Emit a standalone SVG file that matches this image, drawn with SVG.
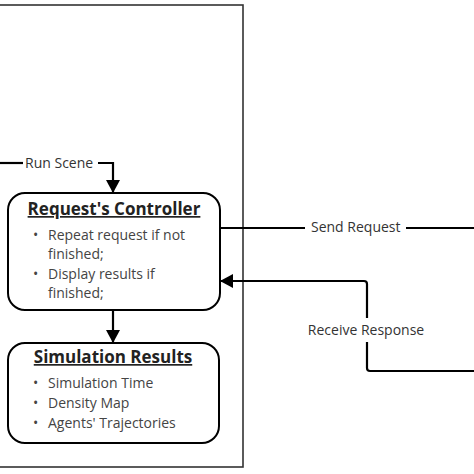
<svg xmlns="http://www.w3.org/2000/svg" width="474" height="474" viewBox="0 0 474 474">
<defs>
<marker id="ah" markerWidth="13" markerHeight="14" refX="12" refY="7" orient="auto" markerUnits="userSpaceOnUse">
<path d="M0,0 L13,7 L0,14 z" fill="#000"/>
</marker>
<style>
.box{fill:#fff;stroke:#000;stroke-width:2}
.ln{fill:none;stroke:#000;stroke-width:2.2}
.title{font-family:"Open Sans","DejaVu Sans",sans-serif;font-weight:bold;font-size:17px;fill:#222;text-decoration:underline}
.item{font-family:"Open Sans","DejaVu Sans",sans-serif;font-size:14px;fill:#444}
.lbl{font-family:"Open Sans","DejaVu Sans",sans-serif;font-size:14px;fill:#333}
</style>
</defs>
<rect x="-10" y="5" width="253" height="462" fill="#fff" stroke="#333" stroke-width="1.6"/>
<g id="connectors">
<path class="ln" d="M0,163 H23"/>
<text class="lbl" x="25" y="168">Run Scene</text>
<path class="ln" d="M98,163 H113 V192" marker-end="url(#ah)"/>
<path class="ln" d="M220,228 H305"/>
<text class="lbl" x="311" y="232">Send Request</text>
<path class="ln" d="M406,228 H474"/>
<path class="ln" d="M474,371 H370 Q367,371 367,368 V342"/>
<path class="ln" d="M367,318 V284 Q367,281 364,281 H221" marker-end="url(#ah)"/>
<text class="lbl" x="366" y="335" text-anchor="middle">Receive Response</text>
<path class="ln" d="M113,310 V342" marker-end="url(#ah)"/>
</g>
<g id="controller">
<rect class="box" x="8" y="193" width="212" height="117" rx="17"/>
<text class="title" x="114" y="215" text-anchor="middle">Request's Controller</text>
<text class="item" x="33" y="240">•</text>
<text class="item" x="48" y="240">Repeat request if not</text>
<text class="item" x="48" y="259">finished;</text>
<text class="item" x="33" y="279">•</text>
<text class="item" x="48" y="279">Display results if</text>
<text class="item" x="48" y="298">finished;</text>
</g>
<g id="results">
<rect class="box" x="8" y="343" width="211" height="100" rx="17"/>
<text class="title" x="113" y="363" text-anchor="middle">Simulation Results</text>
<text class="item" x="33" y="388">•</text>
<text class="item" x="48" y="388">Simulation Time</text>
<text class="item" x="33" y="408">•</text>
<text class="item" x="48" y="408">Density Map</text>
<text class="item" x="33" y="428">•</text>
<text class="item" x="48" y="428">Agents' Trajectories</text>
</g>
</svg>
